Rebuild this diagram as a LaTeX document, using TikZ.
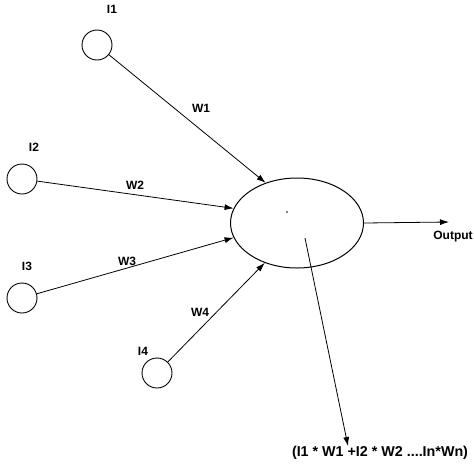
\documentclass[tikz,border=0pt]{standalone}
\usepackage{fontspec}
\setmainfont{Liberation Sans}
\usetikzlibrary{shapes.geometric,arrows.meta}
\begin{document}
\begin{tikzpicture}[x=1pt,y=-1pt,
  inp/.style={draw,circle,line width=0.9pt,minimum size=30pt,inner sep=0pt},
  neuron/.style={draw,ellipse,line width=1pt,minimum width=133pt,minimum height=90pt,inner sep=0pt},
  lab/.style={font=\fontsize{12}{14}\selectfont\bfseries,inner sep=0pt},
  conn/.style={line width=0.8pt,-{Latex[length=9pt,width=6pt]}}]
\useasboundingbox (0,0) rectangle (474,467);
\node[inp] (i1) at (97,45) {};
\node[inp] (i2) at (22,179) {};
\node[inp] (i3) at (22,298) {};
\node[inp] (i4) at (157,373) {};
\node[neuron] (n) at (297,223) {};
\node[lab] (l1) at (112,9) {I1};
\node[lab] (l2) at (34,147) {I2};
\node[lab] (l3) at (27,266) {I3};
\node[lab] (l4) at (143,351) {I4};
\node[lab] (w1) at (201,108) {W1};
\node[lab] (w2) at (135,185) {W2};
\node[lab] (w3) at (127,261) {W3};
\node[lab] (w4) at (200,312) {W4};
\node[lab] (out) at (453,237) {Output};
\node[lab,font=\fontsize{14.3}{16}\selectfont\bfseries] (f) at (380,453) {(I1 * W1 +I2 * W2 ....In*Wn)};
\coordinate (p) at (305,238);
\coordinate (ft) at (348,446);
\coordinate (o) at (449,222);
\fill (287,212) circle (0.9pt);
\draw[conn] (i1) -- (n.128);
\draw[conn] (i2) -- (n.167);
\draw[conn] (i3) -- (n.193);
\draw[conn] (i4) -- (n.231);
\draw[conn] (n.0) -- (o);
\draw[conn] (p) -- (ft);
\end{tikzpicture}
\end{document}
